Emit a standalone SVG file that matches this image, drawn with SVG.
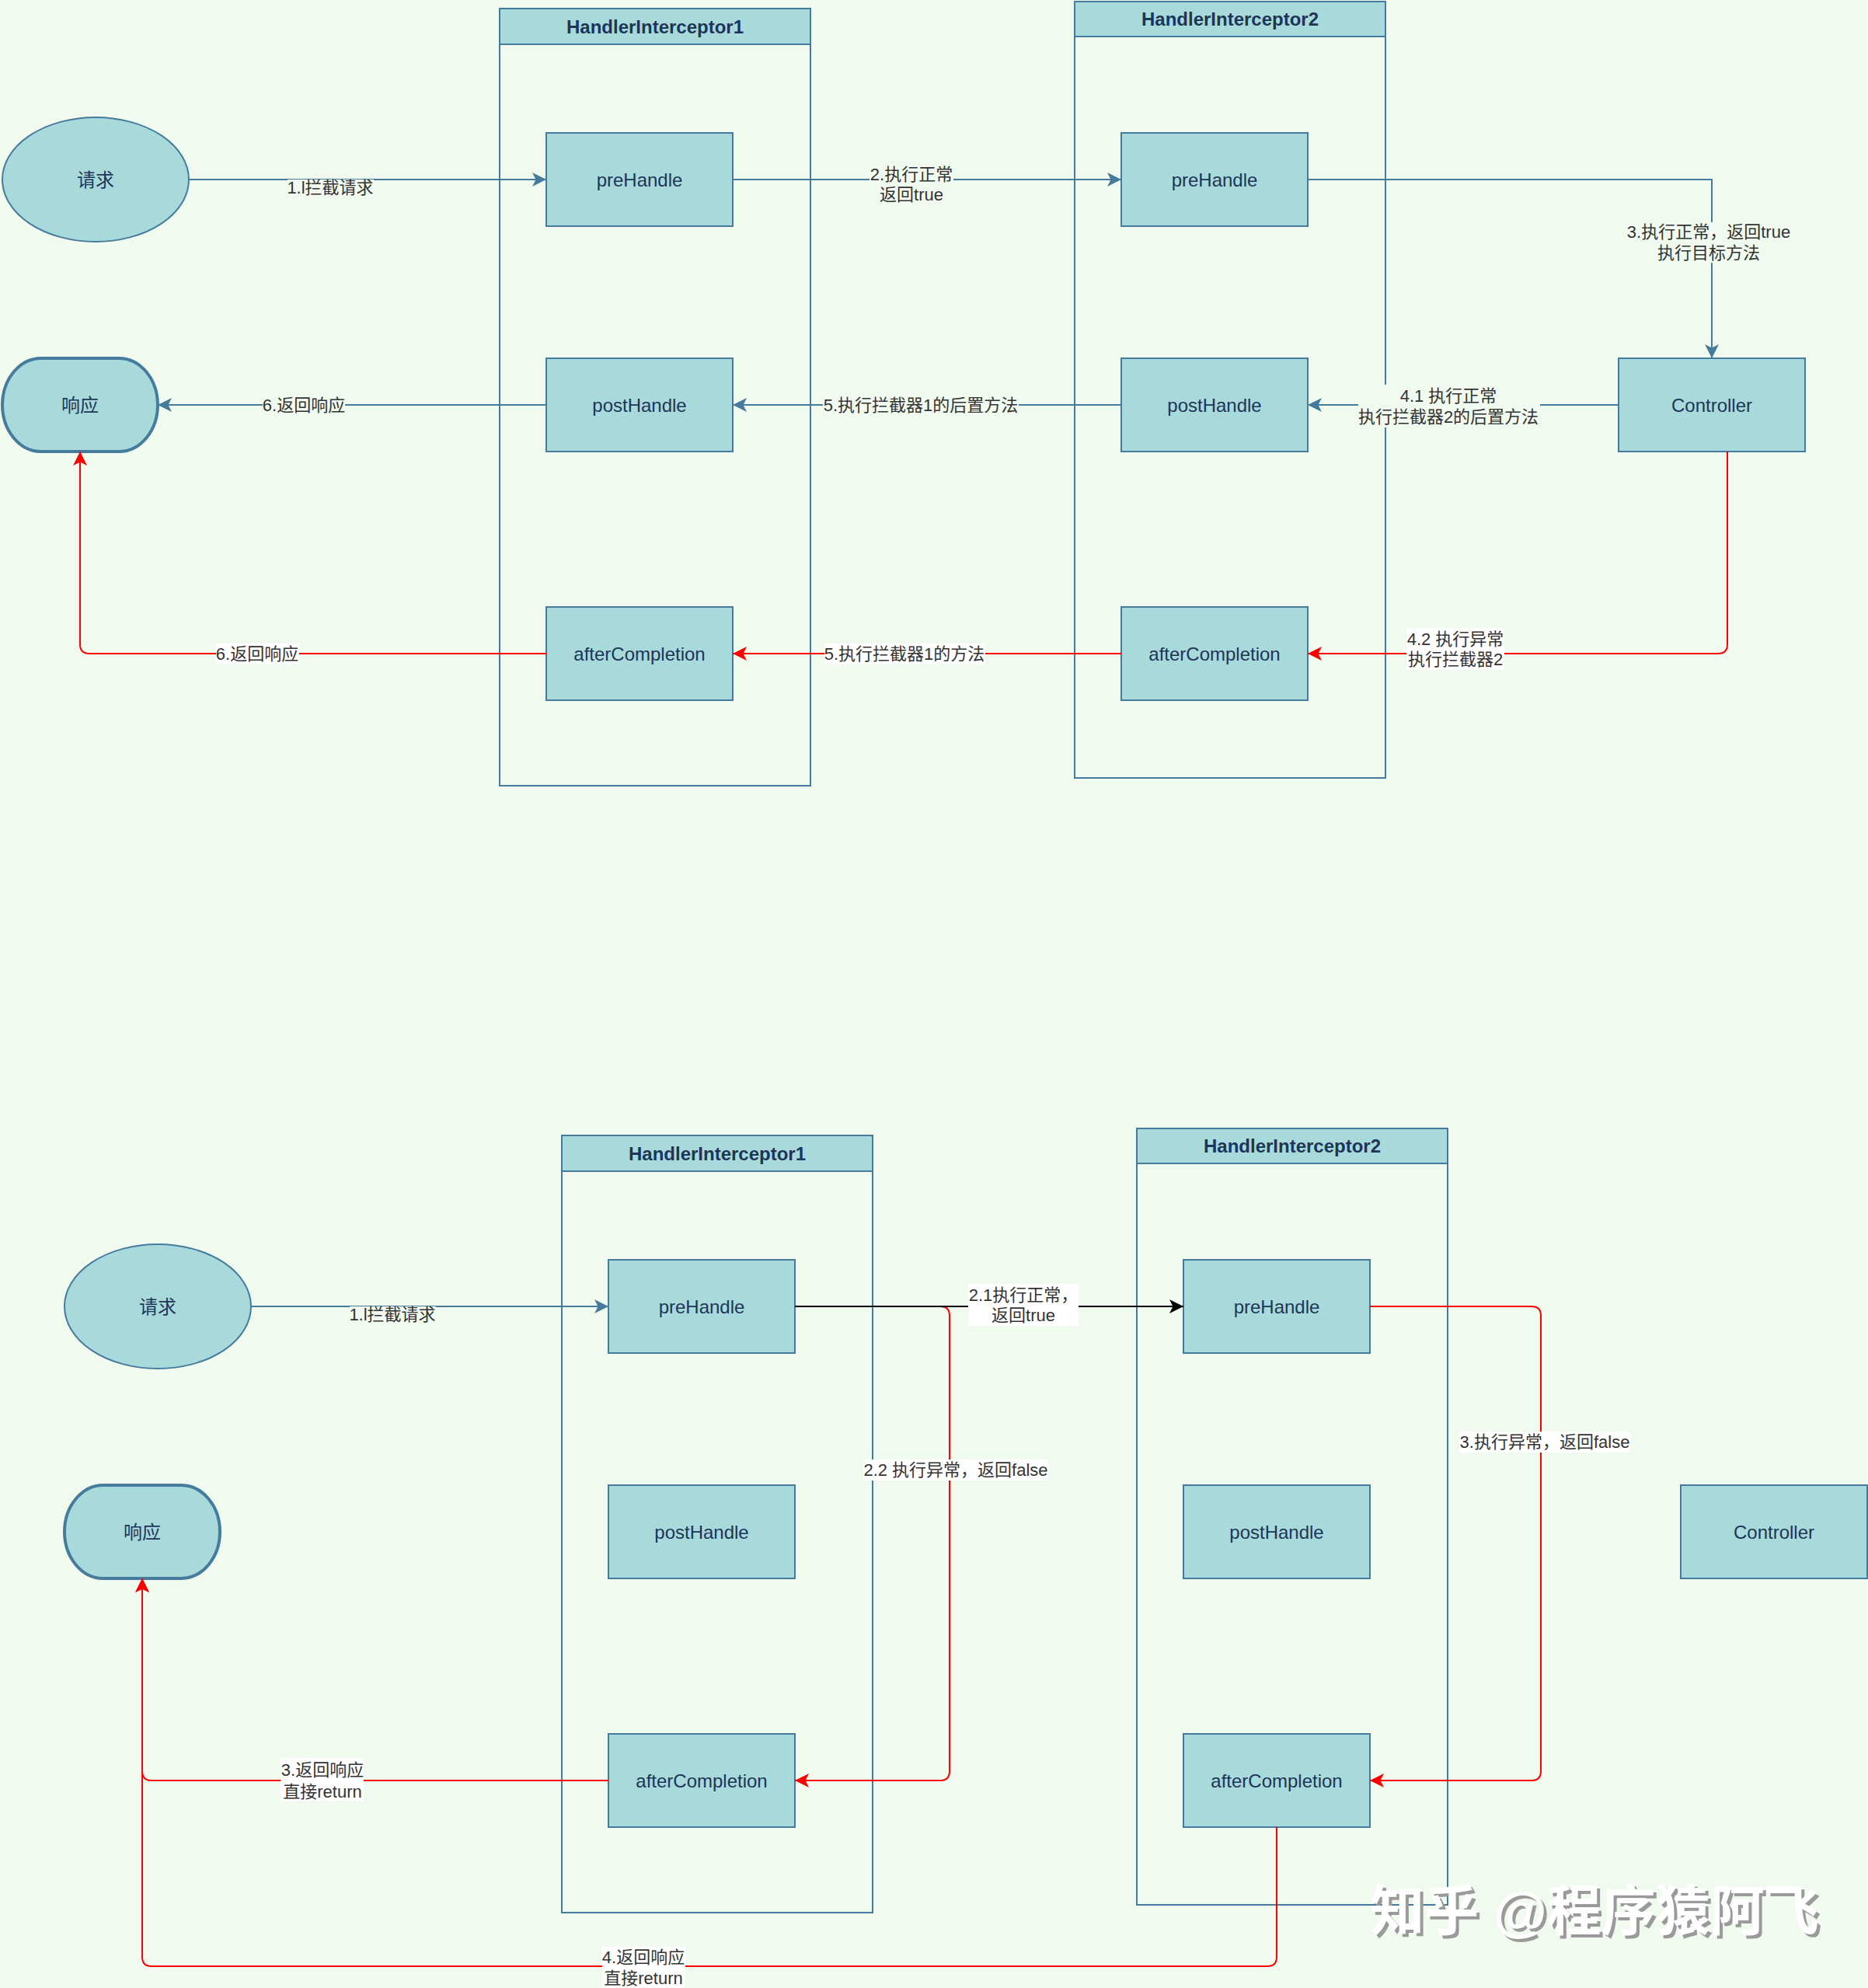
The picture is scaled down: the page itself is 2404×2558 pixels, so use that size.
<svg xmlns="http://www.w3.org/2000/svg" width="2404" height="2558" viewBox="0 0 2404 2558">
<style>
text, tspan { font-family: "Liberation Sans", "Noto Sans CJK SC", sans-serif; text-anchor: middle; dominant-baseline: central; }
.box { fill: #A8DADC; stroke: #457B9D; stroke-width: 2; }
.lane { fill: none; stroke: #457B9D; stroke-width: 2; }
.term { fill: #A8DADC; stroke: #457B9D; stroke-width: 4; }
.nt { font-size: 24px; fill: #1D3557; }
.ht { font-size: 24px; font-weight: bold; fill: #1D3557; }
.lt { font-size: 22px; fill: #333333; }
.bgp { fill: #F1FAEE; }
.bgw { fill: #FFFFFF; }
.eb { fill: none; stroke: #457B9D; stroke-width: 2; marker-end: url(#ab); }
.er { fill: none; stroke: #FF0000; stroke-width: 2; marker-end: url(#ar); }
.ek { fill: none; stroke: #000000; stroke-width: 2; marker-end: url(#ak); }
.wm { font-size: 70px; font-weight: bold; }
</style>
<defs>
<marker id="ab" markerUnits="userSpaceOnUse" markerWidth="20" markerHeight="20" viewBox="0 0 20 20" refX="18" refY="9" orient="auto"><path d="M18,9 L0,0 L4.5,9 L0,18 Z" fill="#457B9D"/></marker>
<marker id="ar" markerUnits="userSpaceOnUse" markerWidth="20" markerHeight="20" viewBox="0 0 20 20" refX="18" refY="9" orient="auto"><path d="M18,9 L0,0 L4.5,9 L0,18 Z" fill="#FF0000"/></marker>
<marker id="ak" markerUnits="userSpaceOnUse" markerWidth="20" markerHeight="20" viewBox="0 0 20 20" refX="18" refY="9" orient="auto"><path d="M18,9 L0,0 L4.5,9 L0,18 Z" fill="#000000"/></marker>
</defs>
<rect x="0" y="0" width="2404" height="2558" fill="#F1FAEE"/>

<!-- ===== Top diagram ===== -->
<g id="top-hi1">
<rect class="lane" x="643" y="11" width="400" height="1000"/>
<rect class="box" x="643" y="11" width="400" height="46"/>
<text class="ht" x="843" y="34">HandlerInterceptor1</text>
</g>
<g id="top-hi2">
<rect class="lane" x="1383" y="2" width="400" height="999"/>
<rect class="box" x="1383" y="2" width="400" height="45"/>
<text class="ht" x="1583" y="24.5">HandlerInterceptor2</text>
</g>
<g id="top-request">
<ellipse class="box" cx="123" cy="231" rx="120" ry="80"/>
<text class="nt" x="123" y="231">请求</text>
</g>
<g id="top-response">
<path class="term" d="M53,461 H153 A50,60 0 0 1 153,581 H53 A50,60 0 0 1 53,461 Z"/>
<text class="nt" x="103" y="521">响应</text>
</g>
<g id="top-pre1"><rect class="box" x="703" y="171" width="240" height="120"/><text class="nt" x="823" y="231">preHandle</text></g>
<g id="top-post1"><rect class="box" x="703" y="461" width="240" height="120"/><text class="nt" x="823" y="521">postHandle</text></g>
<g id="top-after1"><rect class="box" x="703" y="781" width="240" height="120"/><text class="nt" x="823" y="841">afterCompletion</text></g>
<g id="top-pre2"><rect class="box" x="1443" y="171" width="240" height="120"/><text class="nt" x="1563" y="231">preHandle</text></g>
<g id="top-post2"><rect class="box" x="1443" y="461" width="240" height="120"/><text class="nt" x="1563" y="521">postHandle</text></g>
<g id="top-after2"><rect class="box" x="1443" y="781" width="240" height="120"/><text class="nt" x="1563" y="841">afterCompletion</text></g>
<g id="top-controller"><rect class="box" x="2083" y="461" width="240" height="120"/><text class="nt" x="2203" y="521">Controller</text></g>

<!-- ===== Bottom diagram ===== -->
<g id="bot-hi1">
<rect class="lane" x="723" y="1461" width="400" height="1000"/>
<rect class="box" x="723" y="1461" width="400" height="46"/>
<text class="ht" x="923" y="1484">HandlerInterceptor1</text>
</g>
<g id="bot-hi2">
<rect class="lane" x="1463" y="1452" width="400" height="999"/>
<rect class="box" x="1463" y="1452" width="400" height="45"/>
<text class="ht" x="1663" y="1474.5">HandlerInterceptor2</text>
</g>
<g id="bot-request">
<ellipse class="box" cx="203" cy="1681" rx="120" ry="80"/>
<text class="nt" x="203" y="1681">请求</text>
</g>
<g id="bot-response">
<path class="term" d="M133,1911 H233 A50,60 0 0 1 233,2031 H133 A50,60 0 0 1 133,1911 Z"/>
<text class="nt" x="183" y="1971">响应</text>
</g>
<g id="bot-pre1"><rect class="box" x="783" y="1621" width="240" height="120"/><text class="nt" x="903" y="1681">preHandle</text></g>
<g id="bot-post1"><rect class="box" x="783" y="1911" width="240" height="120"/><text class="nt" x="903" y="1971">postHandle</text></g>
<g id="bot-after1"><rect class="box" x="783" y="2231" width="240" height="120"/><text class="nt" x="903" y="2291">afterCompletion</text></g>
<g id="bot-pre2"><rect class="box" x="1523" y="1621" width="240" height="120"/><text class="nt" x="1643" y="1681">preHandle</text></g>
<g id="bot-post2"><rect class="box" x="1523" y="1911" width="240" height="120"/><text class="nt" x="1643" y="1971">postHandle</text></g>
<g id="bot-after2"><rect class="box" x="1523" y="2231" width="240" height="120"/><text class="nt" x="1643" y="2291">afterCompletion</text></g>
<g id="bot-controller"><rect class="box" x="2163" y="1911" width="240" height="120"/><text class="nt" x="2283" y="1971">Controller</text></g>

<!-- ===== Connectors ===== -->
<g id="connectors">
<!-- top -->
<path class="eb" d="M243,231 H703"/>
<path class="eb" d="M943,231 H1443"/>
<path class="eb" d="M1683,231 H2203 V461"/>
<path class="eb" d="M2083,521 H1683"/>
<path class="eb" d="M1443,521 H943"/>
<path class="eb" d="M703,521 H203"/>
<path class="er" d="M2223,581 V829 Q2223,841 2211,841 H1683"/>
<path class="er" d="M1443,841 H943"/>
<path class="er" d="M703,841 H115 Q103,841 103,829 V581"/>
<!-- bottom -->
<path class="eb" d="M323,1681 H783"/>
<path class="er" d="M1023,1681 H1210 Q1222,1681 1222,1693 V2279 Q1222,2291 1210,2291 H1023"/>
<path class="ek" d="M1023,1681 H1523"/>
<path class="er" d="M1763,1681 H1971 Q1983,1681 1983,1693 V2279 Q1983,2291 1971,2291 H1763"/>
<path class="er" d="M783,2291 H195 Q183,2291 183,2279 V2031"/>
<path class="er" d="M1643,2351 V2518 Q1643,2530 1631,2530 H195 Q183,2530 183,2518 V2031"/>

<!-- labels top -->
<rect class="bgp" x="370" y="231" width="111" height="21"/>
<text class="lt" x="425" y="241">1.l拦截请求</text>
<rect class="bgp" x="1119" y="212" width="108" height="50"/>
<text class="lt"><tspan x="1173" y="224">2.执行正常</tspan><tspan x="1173" y="250">返回true</tspan></text>
<rect class="bgp" x="2094" y="286" width="210" height="52"/>
<text class="lt"><tspan x="2199" y="298">3.执行正常，返回true</tspan><tspan x="2199" y="325">执行目标方法</tspan></text>
<rect class="bgp" x="1748" y="495" width="234" height="55"/>
<text class="lt"><tspan x="1864" y="509">4.1 执行正常</tspan><tspan x="1864" y="536">执行拦截器2的后置方法</tspan></text>
<rect class="bgp" x="1059" y="508" width="252" height="27"/>
<text class="lt" x="1185" y="521">5.执行拦截器1的后置方法</text>
<rect class="bgp" x="338" y="508" width="106" height="27"/>
<text class="lt" x="391" y="521">6.返回响应</text>
<rect class="bgw" x="1810" y="808" width="126" height="54"/>
<text class="lt"><tspan x="1873" y="822">4.2 执行异常</tspan><tspan x="1873" y="848">执行拦截器2</tspan></text>
<rect class="bgw" x="1061" y="828" width="207" height="27"/>
<text class="lt" x="1164" y="841">5.执行拦截器1的方法</text>
<rect class="bgw" x="278" y="828" width="107" height="27"/>
<text class="lt" x="331" y="841">6.返回响应</text>

<!-- labels bottom -->
<rect class="bgp" x="450" y="1681" width="111" height="21"/>
<text class="lt" x="505" y="1691">1.l拦截请求</text>
<rect class="bgw" x="1246" y="1652" width="142" height="54"/>
<text class="lt"><tspan x="1317" y="1666">2.1执行正常，</tspan><tspan x="1317" y="1692">返回true</tspan></text>
<rect class="bgw" x="1111" y="1878" width="238" height="27"/>
<text class="lt" x="1230" y="1891">2.2 执行异常，返回false</text>
<rect class="bgw" x="1878" y="1842" width="220" height="27"/>
<text class="lt" x="1988" y="1855">3.执行异常，返回false</text>
<rect class="bgw" x="361" y="2262" width="107" height="56"/>
<text class="lt"><tspan x="415" y="2277">3.返回响应</tspan><tspan x="415" y="2305">直接return</tspan></text>
<rect class="bgw" x="775" y="2505" width="107" height="53"/>
<text class="lt"><tspan x="828" y="2518">4.返回响应</tspan><tspan x="828" y="2545">直接return</tspan></text>
</g>

<!-- watermark -->
<g id="watermark">
<text class="wm" x="2056" y="2464" fill="#9a9a9a">知乎 @程序猿阿飞</text>
<text class="wm" x="2052" y="2460" fill="#FFFFFF">知乎 @程序猿阿飞</text>
</g>
</svg>
